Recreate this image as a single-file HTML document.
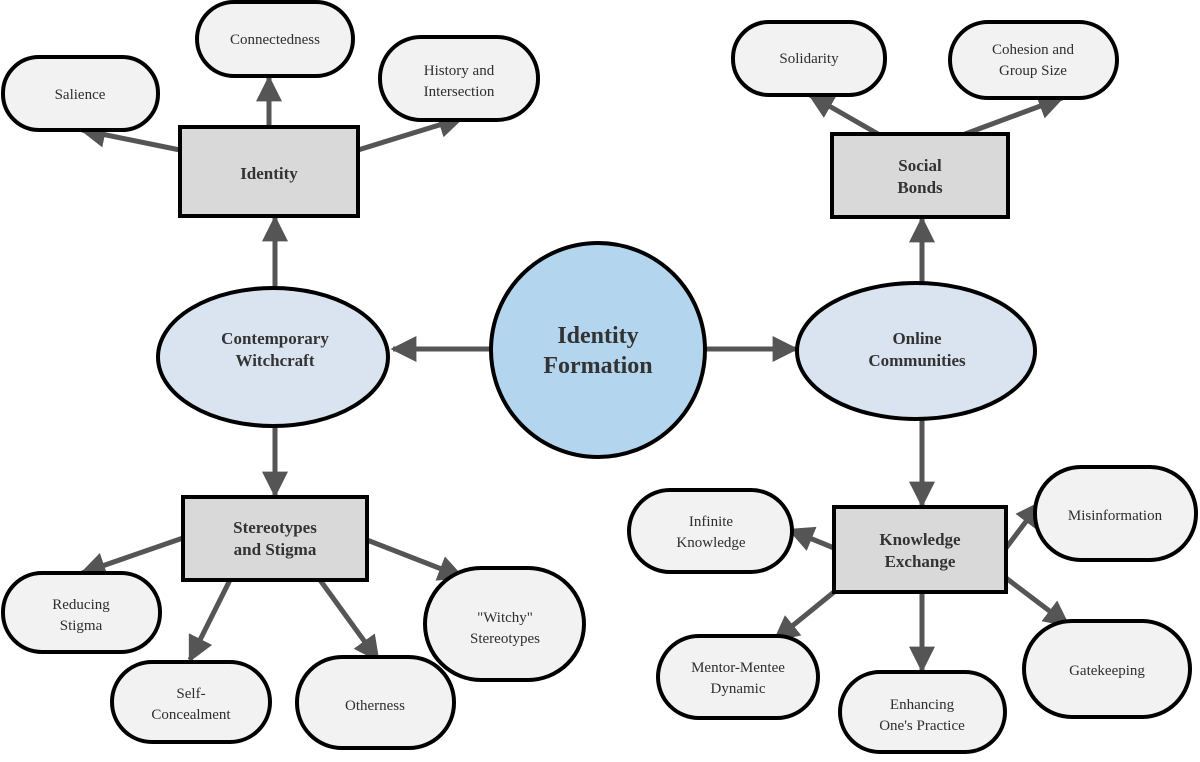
<!DOCTYPE html>
<html><head><style>html,body{margin:0;padding:0;background:#fff}</style></head>
<body>
<svg width="1200" height="757" viewBox="0 0 1200 757" xmlns="http://www.w3.org/2000/svg" font-family="Liberation Serif, serif">
<defs>
<marker id="a" viewBox="0 0 10 10" refX="9" refY="5" markerWidth="5.2" markerHeight="5.2" orient="auto" markerUnits="strokeWidth">
<path d="M0,0 L10,5 L0,10 z" fill="#555"/></marker>
</defs>
<g stroke="#555" stroke-width="5" marker-end="url(#a)" fill="none">
<line x1="180" y1="150" x2="82" y2="130"/>
<line x1="269" y1="127" x2="269" y2="78"/>
<line x1="358" y1="150" x2="462" y2="118"/>
<line x1="275" y1="287" x2="275" y2="218"/>
<line x1="490" y1="349" x2="393" y2="349"/>
<line x1="706" y1="349" x2="796" y2="349"/>
<line x1="275" y1="427" x2="275" y2="495"/>
<line x1="183" y1="538" x2="82" y2="573"/>
<line x1="230" y1="580" x2="190" y2="660"/>
<line x1="320" y1="580" x2="378" y2="660"/>
<line x1="367" y1="540" x2="462" y2="577"/>
<line x1="922" y1="282" x2="922" y2="219"/>
<line x1="878" y1="134" x2="810" y2="95"/>
<line x1="965" y1="134" x2="1062" y2="98"/>
<line x1="922" y1="420" x2="922" y2="505"/>
<line x1="834" y1="548" x2="790" y2="530"/>
<line x1="1006" y1="548" x2="1040" y2="503"/>
<line x1="1006" y1="578" x2="1068" y2="625"/>
<line x1="834" y1="592" x2="775" y2="640"/>
<line x1="922" y1="592" x2="922" y2="670"/>
</g>
<g stroke="#000" stroke-width="4">
<circle cx="598" cy="350" r="107" fill="#b3d5ee"/>
<ellipse cx="273" cy="357" rx="115" ry="69" fill="#dae3f0"/>
<ellipse cx="916" cy="351" rx="119" ry="68" fill="#dae3f0"/>
<rect x="180" y="127" width="178" height="89" fill="#d9d9d9"/>
<rect x="183" y="497" width="184" height="83" fill="#d9d9d9"/>
<rect x="832" y="134" width="176" height="83" fill="#d9d9d9"/>
<rect x="834" y="507" width="172" height="85" fill="#d9d9d9"/>
<g fill="#f2f2f2">
<rect x="3" y="57" width="155" height="73" rx="36"/>
<rect x="197" y="2" width="156" height="74" rx="37"/>
<rect x="380" y="37" width="158" height="83" rx="41"/>
<rect x="3" y="573" width="157" height="79" rx="39"/>
<rect x="112" y="662" width="158" height="80" rx="40"/>
<rect x="297" y="657" width="157" height="91" rx="45"/>
<rect x="425" y="568" width="159" height="112" rx="56"/>
<rect x="733" y="22" width="152" height="73" rx="36"/>
<rect x="950" y="22" width="167" height="76" rx="38"/>
<rect x="629" y="490" width="163" height="82" rx="41"/>
<rect x="1035" y="467" width="161" height="93" rx="46"/>
<rect x="1024" y="621" width="166" height="96" rx="48"/>
<rect x="658" y="636" width="160" height="82" rx="41"/>
<rect x="840" y="672" width="165" height="80" rx="40"/>
</g>
</g>
<g fill="#2e2e2e" font-size="15" text-anchor="middle">
<text x="80" y="99">Salience</text>
<text x="275" y="44">Connectedness</text>
<text x="459" y="75">History and</text><text x="459" y="96">Intersection</text>
<text x="81" y="609">Reducing</text><text x="81" y="630">Stigma</text>
<text x="191" y="698">Self-</text><text x="191" y="719">Concealment</text>
<text x="375" y="710">Otherness</text>
<text x="505" y="622">"Witchy"</text><text x="505" y="643">Stereotypes</text>
<text x="809" y="63">Solidarity</text>
<text x="1033" y="54">Cohesion and</text><text x="1033" y="75">Group Size</text>
<text x="711" y="526">Infinite</text><text x="711" y="547">Knowledge</text>
<text x="1115" y="520">Misinformation</text>
<text x="1107" y="675">Gatekeeping</text>
<text x="738" y="672">Mentor-Mentee</text><text x="738" y="693">Dynamic</text>
<text x="922" y="709">Enhancing</text><text x="922" y="730">One's Practice</text>
</g>
<g fill="#333" font-size="17" font-weight="bold" text-anchor="middle">
<text x="269" y="179">Identity</text>
<text x="275" y="344">Contemporary</text><text x="275" y="366">Witchcraft</text>
<text x="275" y="533">Stereotypes</text><text x="275" y="555">and Stigma</text>
<text x="920" y="171">Social</text><text x="920" y="193">Bonds</text>
<text x="917" y="344">Online</text><text x="917" y="366">Communities</text>
<text x="920" y="545">Knowledge</text><text x="920" y="567">Exchange</text>
</g>
<g fill="#333" font-size="24" font-weight="bold" text-anchor="middle">
<text x="598" y="343">Identity</text><text x="598" y="373">Formation</text>
</g>
</svg>
</body></html>
